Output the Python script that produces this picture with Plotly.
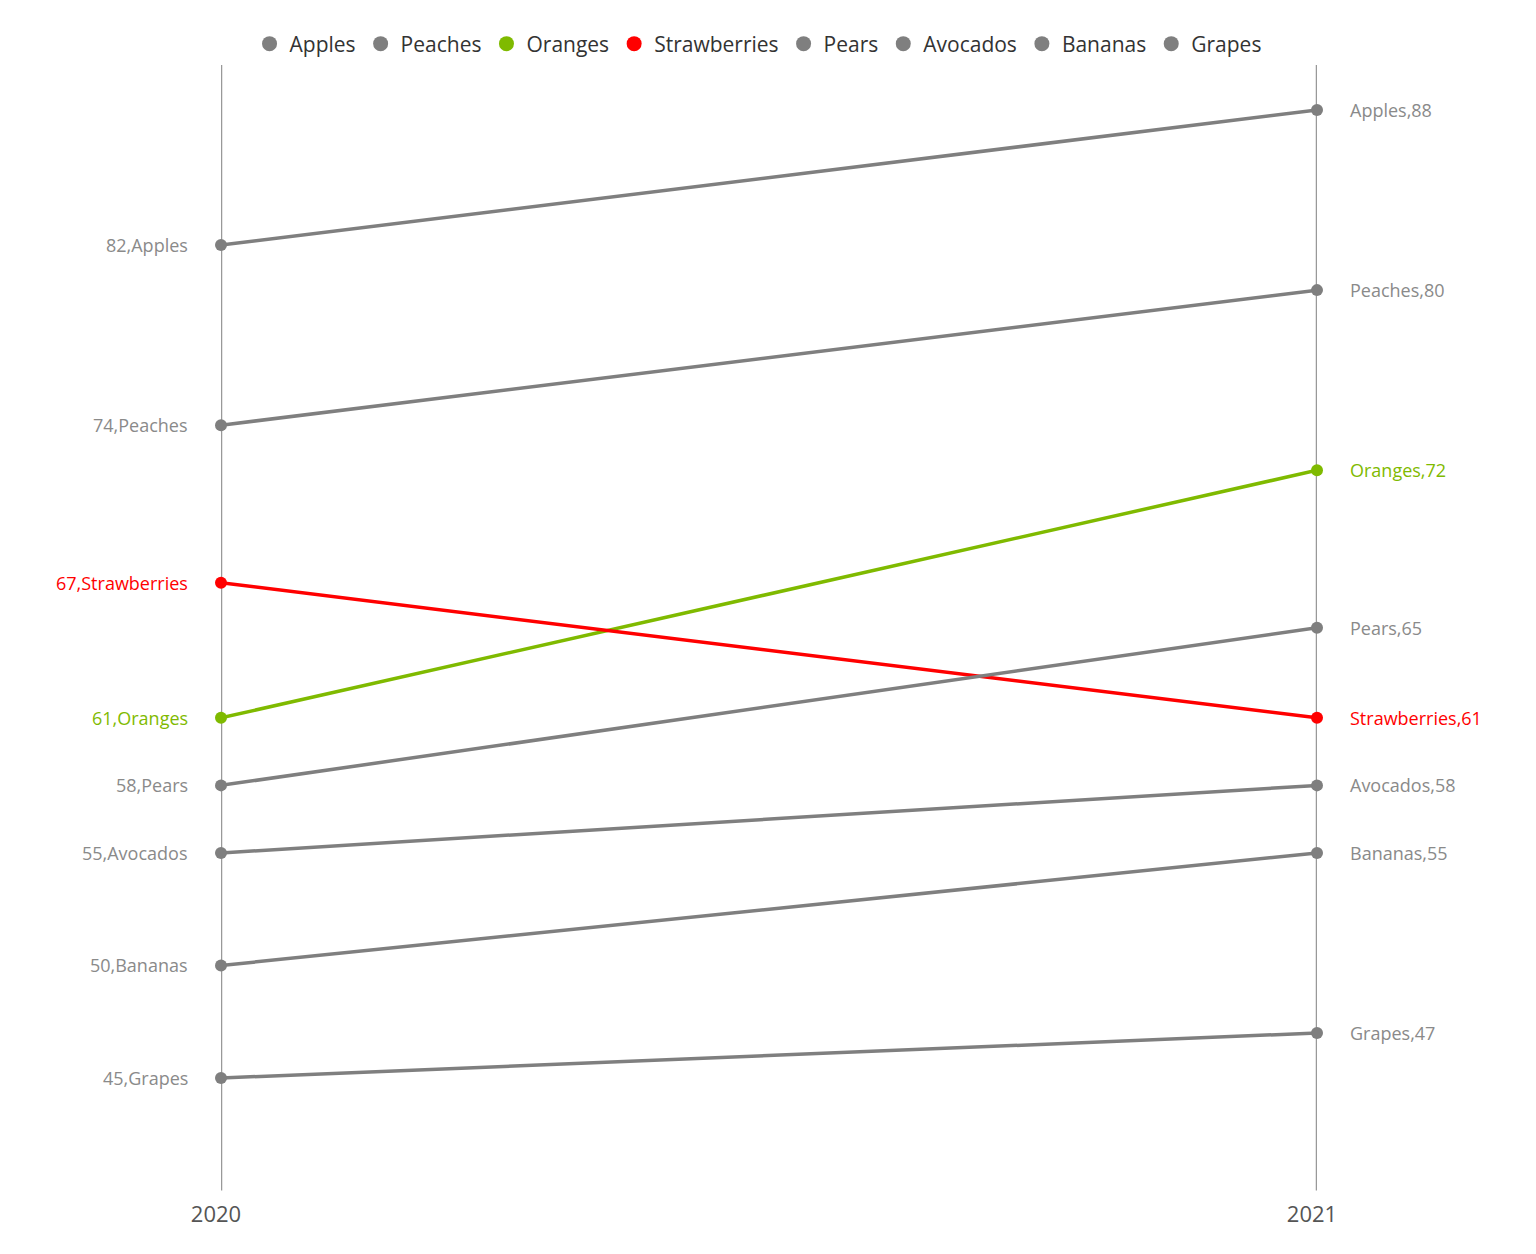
import plotly.graph_objects as go

years = [2020, 2021]
fruits = ["Apples", "Peaches", "Oranges", "Strawberries", "Pears", "Avocados", "Bananas", "Grapes"]
values_2020 = [82, 74, 61, 67, 58, 55, 50, 45]
values_2021 = [88, 80, 72, 61, 65, 58, 55, 47]
colors = ["#7f7f7f", "#7f7f7f", "#7FBA00", "#FF0000", "#7f7f7f", "#7f7f7f", "#7f7f7f", "#7f7f7f"]
label_colors = ["#8a8a8a", "#8a8a8a", "#7FBA00", "#FF0000", "#8a8a8a", "#8a8a8a", "#8a8a8a", "#8a8a8a"]

FONT = "Open Sans"
W, H = 1520, 1238  # page body has an 8px margin

fig = go.Figure()
annotations = []
shapes = []

for yr in years:
    shapes.append(dict(type="line", xref="x", yref="y domain", x0=yr, x1=yr, y0=0, y1=1,
                       line=dict(color="#999999", width=2.5), layer="below"))

for name, v0, v1, c, lc in zip(fruits, values_2020, values_2021, colors, label_colors):
    fig.add_trace(go.Scatter(
        x=years, y=[v0, v1], name=name, mode="lines+markers", legendgroup=name,
        line=dict(color=c, width=3.5), marker=dict(color=c, size=12),
        cliponaxis=False, showlegend=False,
    ))
    # legend entry (circle only)
    fig.add_trace(go.Scatter(
        x=[None], y=[None], name=name, mode="markers", legendgroup=name,
        marker=dict(color=c, size=15), showlegend=True,
    ))
    # connector lines
    shapes.append(dict(type="line", xref="x", yref="y", xsizemode="pixel", xanchor=years[0],
                       x0=-30, x1=0, y0=v0, y1=v0, line=dict(color="#e2e2e2", width=1.5), layer="below"))
    shapes.append(dict(type="line", xref="x", yref="y", xsizemode="pixel", xanchor=years[1],
                       x0=0, x1=30, y0=v1, y1=v1, line=dict(color="#e2e2e2", width=1.5), layer="below"))
    annotations.append(dict(x=years[0], y=v0, xref="x", yref="y", text=f"{v0},{name}",
                            showarrow=False, xanchor="right", yanchor="middle", xshift=-31,
                            font=dict(family=FONT, size=18, color=lc)))
    annotations.append(dict(x=years[1], y=v1, xref="x", yref="y", text=f"{name},{v1}",
                            showarrow=False, xanchor="left", yanchor="middle", xshift=31,
                            font=dict(family=FONT, size=18, color=lc)))

fig.update_layout(
    width=W, height=H,
    margin=dict(l=213, r=211, t=0, b=0),
    paper_bgcolor="white", plot_bgcolor="white",
    font=dict(family=FONT, color="#444"),
    showlegend=True,
    legend=dict(orientation="h", xref="paper", yref="paper", x=0.49, y=1 - 36 / H,
                xanchor="center", yanchor="middle", font=dict(size=21, color="#333"),
                itemwidth=30, tracegroupgap=0, bgcolor="rgba(0,0,0,0)"),
    xaxis=dict(range=[2020, 2021], tickvals=years, ticktext=[str(y) for y in years],
               showgrid=False, zeroline=False, showline=False, ticks="",
               ticklabelstandoff=8, ticklabelshift=-5,
               tickfont=dict(size=22, color="#555")),
    yaxis=dict(range=[40, 90], visible=False, domain=[1 - 1182.6 / H, 1 - 57 / H]),
    shapes=shapes,
    annotations=annotations,
)

fig.write_html("out.html")
